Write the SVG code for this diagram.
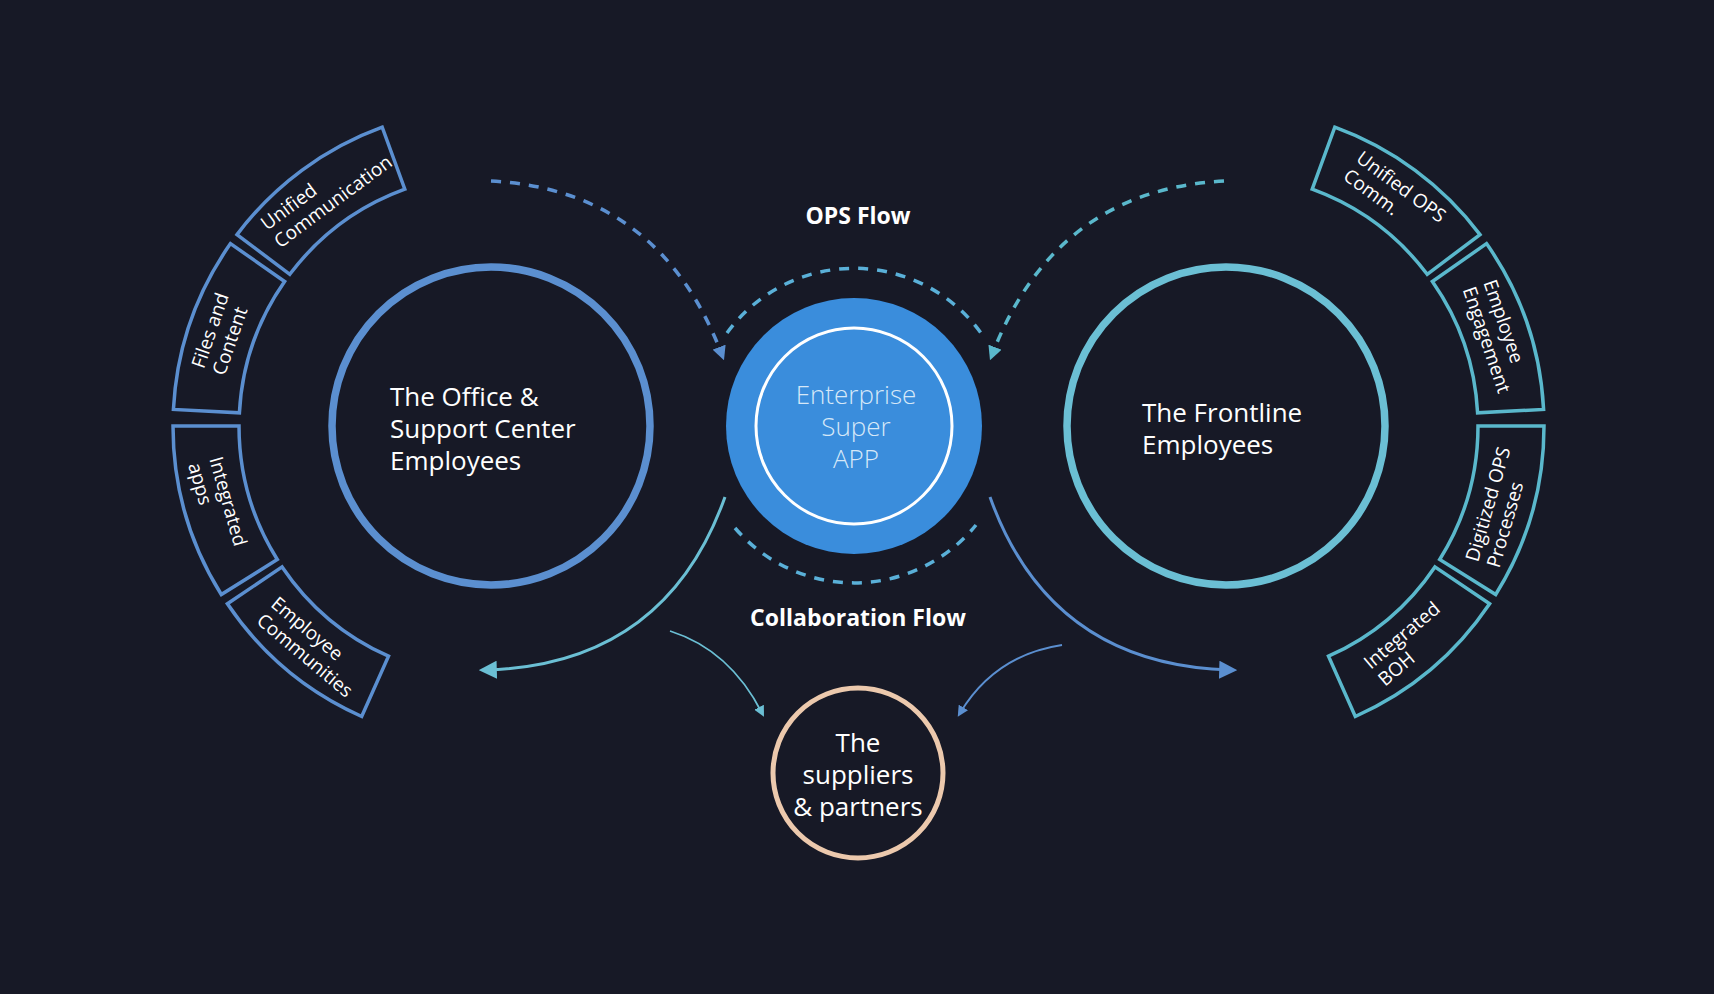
<svg xmlns="http://www.w3.org/2000/svg" width="1714" height="994" viewBox="0 0 1714 994">
<style>
text{font-family:"Open Sans","Noto Sans",sans-serif;fill:#fff}
.seg{fill:none;stroke-width:3.5}
.lseg{stroke:#5b8fd0}.rseg{stroke:#5ab8cc}
.segt{font-size:19px}
.main{font-size:26px;font-weight:500}
.flow{font-size:23px;font-weight:700;text-anchor:middle}
.dash{fill:none;stroke-width:3.5;stroke-dasharray:10 9}
</style>
<defs>
<marker id="ab" viewBox="0 0 10 10" refX="6" refY="5" markerWidth="4" markerHeight="4" orient="auto"><path d="M0,0L10,5L0,10z" fill="#5b8fd0"/></marker>
<marker id="at" viewBox="0 0 10 10" refX="6" refY="5" markerWidth="4" markerHeight="4" orient="auto"><path d="M0,0L10,5L0,10z" fill="#5ab8cc"/></marker>
<marker id="sb" viewBox="0 0 10 10" refX="6" refY="5" markerWidth="6" markerHeight="6" orient="auto"><path d="M0,0L10,5L0,10z" fill="#5b8fd0"/></marker>
<marker id="st" viewBox="0 0 10 10" refX="6" refY="5" markerWidth="6" markerHeight="6" orient="auto"><path d="M0,0L10,5L0,10z" fill="#6bbfd4"/></marker>
</defs>
<rect width="1714" height="994" fill="#171926"/>
<g id="connectors">
<path class="dash" stroke="#5b8fd0" d="M491,181 Q660,190 722,355" marker-end="url(#ab)"/>
<path class="dash" stroke="#5ab8cc" d="M1224,181 Q1055,190 992,355" marker-end="url(#at)"/>
<path class="dash" stroke="#5ab0d8" d="M727,333 A157,157 0 0 1 981,333"/>
<path class="dash" stroke="#5ab0d8" d="M735,528 A157,157 0 0 0 976,525"/>
<path fill="none" stroke="#6bbfd4" stroke-width="3" d="M725,497 Q665,665 486,670" marker-end="url(#st)"/>
<path fill="none" stroke="#5b8fd0" stroke-width="3" d="M990,497 Q1050,665 1230,670" marker-end="url(#sb)"/>
<path fill="none" stroke="#6bbfd4" stroke-width="1.8" d="M670,631 Q730,650 762,713" marker-end="url(#st)"/>
<path fill="none" stroke="#5b8fd0" stroke-width="1.8" d="M1062,645 Q995,655 960,713" marker-end="url(#sb)"/>
</g>
<text class="flow" x="858" y="224">OPS Flow</text>
<text class="flow" x="858" y="626">Collaboration Flow</text>
<g id="office">
<circle cx="491" cy="426" r="159" fill="none" stroke="#5b8fd0" stroke-width="7.5"/>
<text class="main" x="390"><tspan x="390" y="406">The Office &amp;</tspan><tspan x="390" y="438">Support Center</tspan><tspan x="390" y="470">Employees</tspan></text>
</g>
<g id="superapp">
<circle cx="854" cy="426" r="128" fill="#3a8ddc"/>
<circle cx="854" cy="426" r="98" fill="none" stroke="#fff" stroke-width="3"/>
<text font-size="26" style="fill:#d6e8f8;font-weight:300" text-anchor="middle"><tspan x="856" y="404">Enterprise</tspan><tspan x="856" y="436">Super</tspan><tspan x="856" y="468">APP</tspan></text>
</g>
<g id="frontline">
<circle cx="1226" cy="426" r="159" fill="none" stroke="#6bbfd4" stroke-width="7.5"/>
<text class="main"><tspan x="1142" y="422">The Frontline</tspan><tspan x="1142" y="454">Employees</tspan></text>
</g>
<g id="suppliers">
<circle cx="858" cy="773" r="85" fill="none" stroke="#ecc9ad" stroke-width="5"/>
<text class="main" text-anchor="middle"><tspan x="858" y="752">The</tspan><tspan x="858" y="784">suppliers</tspan><tspan x="858" y="816">&amp; partners</tspan></text>
</g>
<g id="seg-employee-communities">
<path class="seg lseg" d="M361.7,716.5 A318,318 0 0 1 227.4,603.8 L282.1,566.9 A252,252 0 0 0 388.5,656.2 Z"/>
<text class="segt" transform="translate(307.8,644.3) rotate(40)"><tspan x="-54" y="-5">Employee</tspan><tspan x="-54" y="17">Communities</tspan></text>
</g>
<g id="seg-integrated-apps">
<path class="seg lseg" d="M221.3,594.5 A318,318 0 0 1 173,426 L239,426 A252,252 0 0 0 277.3,559.5 Z"/>
<text class="segt" transform="translate(217,504.5) rotate(74)"><tspan x="-46" y="-5">Integrated</tspan><tspan x="-46" y="17">apps</tspan></text>
</g>
<g id="seg-files">
<path class="seg lseg" d="M173.4,409.4 A318,318 0 0 1 230.5,243.6 L284.6,281.5 A252,252 0 0 0 239.4,412.8 Z"/>
<text class="segt" transform="translate(221.5,333.2) rotate(-71)"><tspan x="-40" y="-5">Files and</tspan><tspan x="-40" y="17">Content</tspan></text>
</g>
<g id="seg-unified">
<path class="seg lseg" d="M237,234.6 A318,318 0 0 1 382.2,127.2 L404.8,189.2 A252,252 0 0 0 289.8,274.3 Z"/>
<text class="segt" transform="translate(321.5,196.9) rotate(-36.5)"><tspan x="-64" y="-5">Unified</tspan><tspan x="-64" y="17">Communication</tspan></text>
</g>
<g id="seg-unified-ops">
<path class="seg rseg" d="M1480,234.6 A318,318 0 0 0 1334.8,127.2 L1312.2,189.2 A252,252 0 0 1 1427.2,274.3 Z"/>
<text class="segt" transform="translate(1395.5,196.9) rotate(36.5)"><tspan x="-54" y="-5">Unified OPS</tspan><tspan x="-54" y="17">Comm.</tspan></text>
</g>
<g id="seg-engagement">
<path class="seg rseg" d="M1543.6,409.4 A318,318 0 0 0 1486.5,243.6 L1432.4,281.5 A252,252 0 0 1 1477.6,412.8 Z"/>
<text class="segt" transform="translate(1495.5,333.2) rotate(71)"><tspan x="-52" y="-5">Employee</tspan><tspan x="-52" y="17">Engagement</tspan></text>
</g>
<g id="seg-digitized">
<path class="seg rseg" d="M1495.7,594.5 A318,318 0 0 0 1544,426 L1478,426 A252,252 0 0 1 1439.7,559.5 Z"/>
<text class="segt" transform="translate(1500,504.5) rotate(-74)"><tspan x="-62" y="-5">Digitized OPS</tspan><tspan x="-62" y="17">Processes</tspan></text>
</g>
<g id="seg-boh">
<path class="seg rseg" d="M1355.3,716.5 A318,318 0 0 0 1489.6,603.8 L1434.9,566.9 A252,252 0 0 1 1328.5,656.2 Z"/>
<text class="segt" transform="translate(1409.2,644.3) rotate(-40)"><tspan x="-46" y="-5">Integrated</tspan><tspan x="-46" y="17">BOH</tspan></text>
</g>
</svg>
